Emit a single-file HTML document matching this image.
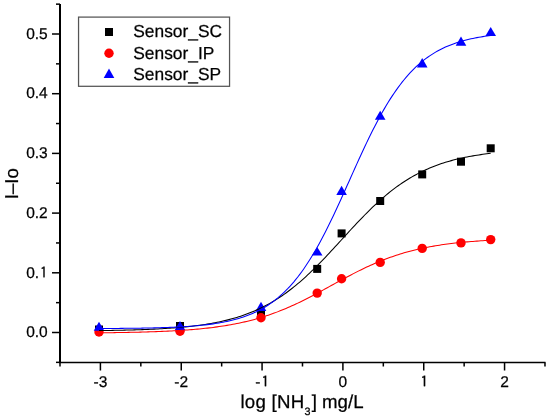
<!DOCTYPE html>
<html><head><meta charset="utf-8"><style>
html,body{margin:0;padding:0;background:#fff;}
body{width:550px;height:418px;overflow:hidden;}
svg{display:block;}
text{text-rendering:geometricPrecision;font-family:"Liberation Sans",Arial,sans-serif;fill:#000;stroke:#000;stroke-width:0.25px;}
.tl{font-size:15.5px;}
.one{font-family:IPAGothic,"Liberation Sans",sans-serif;font-size:15.11px;}
.at{font-size:18.67px;}
.lg{font-size:17.35px;}
</style></head><body>
<svg width="550" height="418" viewBox="0 0 550 418">
<rect width="550" height="418" fill="#fff"/>
<rect x="95.0" y="325.5" width="8" height="8" fill="#000"/>
<rect x="176.0" y="322.0" width="8" height="8" fill="#000"/>
<rect x="257.0" y="309.5" width="8" height="8" fill="#000"/>
<rect x="313.2" y="264.9" width="8" height="8" fill="#000"/>
<rect x="337.6" y="229.4" width="8" height="8" fill="#000"/>
<rect x="376.2" y="197.0" width="8" height="8" fill="#000"/>
<rect x="418.2" y="170.4" width="8" height="8" fill="#000"/>
<rect x="457.0" y="157.7" width="8" height="8" fill="#000"/>
<rect x="486.7" y="144.3" width="8" height="8" fill="#000"/>
<circle cx="99.0" cy="332.0" r="4.7" fill="#f00"/>
<circle cx="180.0" cy="331.2" r="4.7" fill="#f00"/>
<circle cx="261.0" cy="317.8" r="4.7" fill="#f00"/>
<circle cx="317.2" cy="293.1" r="4.7" fill="#f00"/>
<circle cx="341.6" cy="278.8" r="4.7" fill="#f00"/>
<circle cx="380.2" cy="262.4" r="4.7" fill="#f00"/>
<circle cx="422.2" cy="248.4" r="4.7" fill="#f00"/>
<circle cx="461.0" cy="242.9" r="4.7" fill="#f00"/>
<circle cx="490.7" cy="239.6" r="4.7" fill="#f00"/>
<polygon points="99.0,321.8 104.3,330.8 93.7,330.8" fill="#00f"/>
<polygon points="180.0,321.0 185.3,330.2 174.7,330.2" fill="#00f"/>
<polygon points="261.0,301.8 266.3,310.9 255.7,310.9" fill="#00f"/>
<polygon points="317.2,247.1 322.5,255.6 311.9,255.6" fill="#00f"/>
<polygon points="341.6,185.7 346.9,195.0 336.3,195.0" fill="#00f"/>
<polygon points="380.2,110.7 385.5,119.7 374.9,119.7" fill="#00f"/>
<polygon points="422.2,58.1 427.5,67.6 416.9,67.6" fill="#00f"/>
<polygon points="461.0,36.6 466.3,45.8 455.7,45.8" fill="#00f"/>
<polygon points="490.7,26.9 496.0,36.1 485.4,36.1" fill="#00f"/>
<path d="M99.00,330.59 L100.97,330.56 L102.94,330.54 L104.91,330.51 L106.87,330.48 L108.84,330.45 L110.81,330.41 L112.78,330.38 L114.75,330.34 L116.72,330.30 L118.68,330.26 L120.65,330.22 L122.62,330.18 L124.59,330.13 L126.56,330.08 L128.53,330.03 L130.49,329.98 L132.46,329.93 L134.43,329.87 L136.40,329.81 L138.37,329.74 L140.34,329.68 L142.30,329.61 L144.27,329.53 L146.24,329.46 L148.21,329.38 L150.18,329.29 L152.15,329.20 L154.11,329.11 L156.08,329.02 L158.05,328.91 L160.02,328.81 L161.99,328.70 L163.96,328.58 L165.92,328.46 L167.89,328.33 L169.86,328.20 L171.83,328.06 L173.80,327.91 L175.77,327.76 L177.73,327.60 L179.70,327.43 L181.67,327.26 L183.64,327.08 L185.61,326.89 L187.58,326.68 L189.54,326.48 L191.51,326.26 L193.48,326.03 L195.45,325.79 L197.42,325.54 L199.39,325.28 L201.35,325.00 L203.32,324.72 L205.29,324.42 L207.26,324.11 L209.23,323.78 L211.20,323.44 L213.16,323.08 L215.13,322.71 L217.10,322.33 L219.07,321.92 L221.04,321.50 L223.01,321.06 L224.97,320.60 L226.94,320.12 L228.91,319.63 L230.88,319.11 L232.85,318.56 L234.82,318.00 L236.78,317.41 L238.75,316.80 L240.72,316.17 L242.69,315.51 L244.66,314.82 L246.63,314.10 L248.59,313.36 L250.56,312.59 L252.53,311.79 L254.50,310.96 L256.47,310.10 L258.44,309.20 L260.40,308.27 L262.37,307.31 L264.34,306.32 L266.31,305.29 L268.28,304.22 L270.25,303.12 L272.21,301.99 L274.18,300.81 L276.15,299.60 L278.12,298.35 L280.09,297.06 L282.06,295.73 L284.02,294.37 L285.99,292.96 L287.96,291.52 L289.93,290.03 L291.90,288.51 L293.87,286.95 L295.83,285.35 L297.80,283.71 L299.77,282.04 L301.74,280.32 L303.71,278.57 L305.68,276.79 L307.64,274.97 L309.61,273.12 L311.58,271.23 L313.55,269.32 L315.52,267.37 L317.49,265.40 L319.45,263.40 L321.42,261.38 L323.39,259.33 L325.36,257.27 L327.33,255.18 L329.30,253.08 L331.26,250.96 L333.23,248.83 L335.20,246.69 L337.17,244.55 L339.14,242.39 L341.11,240.24 L343.07,238.08 L345.04,235.93 L347.01,233.78 L348.98,231.64 L350.95,229.50 L352.92,227.38 L354.88,225.27 L356.85,223.18 L358.82,221.10 L360.79,219.04 L362.76,217.01 L364.73,215.00 L366.69,213.01 L368.66,211.06 L370.63,209.13 L372.60,207.23 L374.57,205.36 L376.54,203.53 L378.50,201.73 L380.47,199.96 L382.44,198.23 L384.41,196.54 L386.38,194.88 L388.35,193.27 L390.31,191.69 L392.28,190.15 L394.25,188.65 L396.22,187.18 L398.19,185.76 L400.16,184.38 L402.12,183.03 L404.09,181.72 L406.06,180.46 L408.03,179.23 L410.00,178.04 L411.97,176.88 L413.93,175.76 L415.90,174.68 L417.87,173.64 L419.84,172.63 L421.81,171.65 L423.78,170.71 L425.74,169.80 L427.71,168.92 L429.68,168.07 L431.65,167.26 L433.62,166.47 L435.59,165.72 L437.55,164.99 L439.52,164.29 L441.49,163.62 L443.46,162.97 L445.43,162.35 L447.40,161.75 L449.36,161.18 L451.33,160.63 L453.30,160.10 L455.27,159.59 L457.24,159.10 L459.21,158.63 L461.17,158.18 L463.14,157.75 L465.11,157.34 L467.08,156.95 L469.05,156.57 L471.02,156.21 L472.98,155.86 L474.95,155.53 L476.92,155.21 L478.89,154.90 L480.86,154.61 L482.83,154.33 L484.79,154.07 L486.76,153.81 L488.73,153.57 L490.70,153.33" fill="none" stroke="#000" stroke-width="1.05"/>
<path d="M99.00,332.82 L100.97,332.80 L102.94,332.78 L104.91,332.76 L106.87,332.74 L108.84,332.71 L110.81,332.68 L112.78,332.66 L114.75,332.63 L116.72,332.60 L118.68,332.57 L120.65,332.54 L122.62,332.50 L124.59,332.47 L126.56,332.43 L128.53,332.39 L130.49,332.35 L132.46,332.31 L134.43,332.26 L136.40,332.22 L138.37,332.17 L140.34,332.12 L142.30,332.07 L144.27,332.01 L146.24,331.95 L148.21,331.89 L150.18,331.83 L152.15,331.76 L154.11,331.70 L156.08,331.62 L158.05,331.55 L160.02,331.47 L161.99,331.39 L163.96,331.30 L165.92,331.21 L167.89,331.12 L169.86,331.02 L171.83,330.92 L173.80,330.81 L175.77,330.70 L177.73,330.59 L179.70,330.47 L181.67,330.34 L183.64,330.21 L185.61,330.07 L187.58,329.93 L189.54,329.78 L191.51,329.62 L193.48,329.46 L195.45,329.29 L197.42,329.11 L199.39,328.93 L201.35,328.73 L203.32,328.53 L205.29,328.33 L207.26,328.11 L209.23,327.88 L211.20,327.65 L213.16,327.40 L215.13,327.14 L217.10,326.88 L219.07,326.60 L221.04,326.32 L223.01,326.02 L224.97,325.71 L226.94,325.38 L228.91,325.05 L230.88,324.70 L232.85,324.34 L234.82,323.97 L236.78,323.58 L238.75,323.17 L240.72,322.76 L242.69,322.32 L244.66,321.88 L246.63,321.41 L248.59,320.93 L250.56,320.44 L252.53,319.92 L254.50,319.39 L256.47,318.85 L258.44,318.28 L260.40,317.70 L262.37,317.10 L264.34,316.48 L266.31,315.84 L268.28,315.18 L270.25,314.51 L272.21,313.81 L274.18,313.10 L276.15,312.37 L278.12,311.62 L280.09,310.85 L282.06,310.06 L284.02,309.25 L285.99,308.43 L287.96,307.58 L289.93,306.72 L291.90,305.84 L293.87,304.95 L295.83,304.03 L297.80,303.10 L299.77,302.16 L301.74,301.20 L303.71,300.23 L305.68,299.24 L307.64,298.24 L309.61,297.22 L311.58,296.20 L313.55,295.17 L315.52,294.12 L317.49,293.07 L319.45,292.01 L321.42,290.94 L323.39,289.87 L325.36,288.80 L327.33,287.72 L329.30,286.63 L331.26,285.55 L333.23,284.47 L335.20,283.39 L337.17,282.31 L339.14,281.23 L341.11,280.16 L343.07,279.09 L345.04,278.03 L347.01,276.98 L348.98,275.94 L350.95,274.91 L352.92,273.88 L354.88,272.87 L356.85,271.87 L358.82,270.88 L360.79,269.91 L362.76,268.95 L364.73,268.01 L366.69,267.08 L368.66,266.17 L370.63,265.28 L372.60,264.40 L374.57,263.54 L376.54,262.70 L378.50,261.87 L380.47,261.07 L382.44,260.28 L384.41,259.51 L386.38,258.76 L388.35,258.03 L390.31,257.32 L392.28,256.63 L394.25,255.96 L396.22,255.30 L398.19,254.66 L400.16,254.05 L402.12,253.45 L404.09,252.87 L406.06,252.30 L408.03,251.76 L410.00,251.23 L411.97,250.72 L413.93,250.22 L415.90,249.74 L417.87,249.28 L419.84,248.83 L421.81,248.40 L423.78,247.99 L425.74,247.58 L427.71,247.20 L429.68,246.82 L431.65,246.46 L433.62,246.12 L435.59,245.78 L437.55,245.46 L439.52,245.15 L441.49,244.85 L443.46,244.57 L445.43,244.29 L447.40,244.03 L449.36,243.77 L451.33,243.53 L453.30,243.29 L455.27,243.07 L457.24,242.85 L459.21,242.64 L461.17,242.44 L463.14,242.25 L465.11,242.07 L467.08,241.89 L469.05,241.72 L471.02,241.56 L472.98,241.41 L474.95,241.26 L476.92,241.11 L478.89,240.98 L480.86,240.85 L482.83,240.72 L484.79,240.60 L486.76,240.48 L488.73,240.37 L490.70,240.27" fill="none" stroke="#f00" stroke-width="1.05"/>
<path d="M99.00,328.54 L100.97,328.53 L102.94,328.52 L104.91,328.51 L106.87,328.49 L108.84,328.48 L110.81,328.47 L112.78,328.45 L114.75,328.44 L116.72,328.42 L118.68,328.41 L120.65,328.39 L122.62,328.37 L124.59,328.35 L126.56,328.33 L128.53,328.31 L130.49,328.29 L132.46,328.26 L134.43,328.23 L136.40,328.21 L138.37,328.18 L140.34,328.15 L142.30,328.11 L144.27,328.08 L146.24,328.04 L148.21,328.00 L150.18,327.96 L152.15,327.91 L154.11,327.86 L156.08,327.81 L158.05,327.76 L160.02,327.70 L161.99,327.64 L163.96,327.58 L165.92,327.51 L167.89,327.44 L169.86,327.36 L171.83,327.28 L173.80,327.20 L175.77,327.11 L177.73,327.01 L179.70,326.91 L181.67,326.80 L183.64,326.69 L185.61,326.56 L187.58,326.43 L189.54,326.30 L191.51,326.15 L193.48,326.00 L195.45,325.84 L197.42,325.66 L199.39,325.48 L201.35,325.29 L203.32,325.08 L205.29,324.86 L207.26,324.63 L209.23,324.39 L211.20,324.13 L213.16,323.86 L215.13,323.57 L217.10,323.26 L219.07,322.94 L221.04,322.59 L223.01,322.23 L224.97,321.84 L226.94,321.44 L228.91,321.01 L230.88,320.55 L232.85,320.07 L234.82,319.56 L236.78,319.02 L238.75,318.45 L240.72,317.85 L242.69,317.21 L244.66,316.54 L246.63,315.83 L248.59,315.08 L250.56,314.29 L252.53,313.46 L254.50,312.58 L256.47,311.66 L258.44,310.68 L260.40,309.65 L262.37,308.57 L264.34,307.43 L266.31,306.23 L268.28,304.97 L270.25,303.65 L272.21,302.26 L274.18,300.80 L276.15,299.26 L278.12,297.66 L280.09,295.97 L282.06,294.21 L284.02,292.36 L285.99,290.43 L287.96,288.42 L289.93,286.31 L291.90,284.11 L293.87,281.83 L295.83,279.44 L297.80,276.96 L299.77,274.38 L301.74,271.71 L303.71,268.93 L305.68,266.05 L307.64,263.08 L309.61,260.00 L311.58,256.83 L313.55,253.55 L315.52,250.18 L317.49,246.71 L319.45,243.15 L321.42,239.50 L323.39,235.76 L325.36,231.94 L327.33,228.04 L329.30,224.06 L331.26,220.01 L333.23,215.90 L335.20,211.73 L337.17,207.50 L339.14,203.23 L341.11,198.92 L343.07,194.58 L345.04,190.21 L347.01,185.82 L348.98,181.42 L350.95,177.02 L352.92,172.63 L354.88,168.25 L356.85,163.89 L358.82,159.56 L360.79,155.26 L362.76,151.00 L364.73,146.79 L366.69,142.64 L368.66,138.55 L370.63,134.53 L372.60,130.58 L374.57,126.70 L376.54,122.91 L378.50,119.20 L380.47,115.58 L382.44,112.05 L384.41,108.62 L386.38,105.28 L388.35,102.04 L390.31,98.90 L392.28,95.86 L394.25,92.92 L396.22,90.08 L398.19,87.34 L400.16,84.70 L402.12,82.15 L404.09,79.71 L406.06,77.36 L408.03,75.10 L410.00,72.94 L411.97,70.86 L413.93,68.88 L415.90,66.98 L417.87,65.16 L419.84,63.42 L421.81,61.77 L423.78,60.19 L425.74,58.68 L427.71,57.24 L429.68,55.88 L431.65,54.57 L433.62,53.34 L435.59,52.16 L437.55,51.04 L439.52,49.98 L441.49,48.97 L443.46,48.01 L445.43,47.10 L447.40,46.24 L449.36,45.42 L451.33,44.65 L453.30,43.91 L455.27,43.22 L457.24,42.56 L459.21,41.93 L461.17,41.34 L463.14,40.79 L465.11,40.26 L467.08,39.76 L469.05,39.28 L471.02,38.84 L472.98,38.41 L474.95,38.02 L476.92,37.64 L478.89,37.28 L480.86,36.94 L482.83,36.63 L484.79,36.33 L486.76,36.04 L488.73,35.77 L490.70,35.52" fill="none" stroke="#00f" stroke-width="1.05"/>
<line x1="60" y1="4" x2="60" y2="362.5" stroke="#000" stroke-width="2"/>
<line x1="59" y1="362.5" x2="545.5" y2="362.5" stroke="#000" stroke-width="1.6"/>
<line x1="56" y1="362.35" x2="60" y2="362.35" stroke="#000" stroke-width="1.5"/>
<line x1="52" y1="332.50" x2="60" y2="332.50" stroke="#000" stroke-width="1.5"/>
<text x="47.70" y="337.20" text-anchor="end" class="tl">0.0</text>
<line x1="56" y1="302.65" x2="60" y2="302.65" stroke="#000" stroke-width="1.5"/>
<line x1="52" y1="272.80" x2="60" y2="272.80" stroke="#000" stroke-width="1.5"/>
<text x="39.08" y="277.50" text-anchor="end" class="tl">0.</text>
<text x="40.12" y="277.74" class="one">1</text>
<line x1="56" y1="242.95" x2="60" y2="242.95" stroke="#000" stroke-width="1.5"/>
<line x1="52" y1="213.10" x2="60" y2="213.10" stroke="#000" stroke-width="1.5"/>
<text x="47.70" y="217.80" text-anchor="end" class="tl">0.2</text>
<line x1="56" y1="183.25" x2="60" y2="183.25" stroke="#000" stroke-width="1.5"/>
<line x1="52" y1="153.40" x2="60" y2="153.40" stroke="#000" stroke-width="1.5"/>
<text x="47.70" y="158.10" text-anchor="end" class="tl">0.3</text>
<line x1="56" y1="123.55" x2="60" y2="123.55" stroke="#000" stroke-width="1.5"/>
<line x1="52" y1="93.70" x2="60" y2="93.70" stroke="#000" stroke-width="1.5"/>
<text x="47.70" y="98.40" text-anchor="end" class="tl">0.4</text>
<line x1="56" y1="63.85" x2="60" y2="63.85" stroke="#000" stroke-width="1.5"/>
<line x1="52" y1="34.00" x2="60" y2="34.00" stroke="#000" stroke-width="1.5"/>
<text x="47.70" y="38.70" text-anchor="end" class="tl">0.5</text>
<line x1="56" y1="4.15" x2="60" y2="4.15" stroke="#000" stroke-width="1.5"/>
<line x1="60.00" y1="362.5" x2="60.00" y2="366.5" stroke="#000" stroke-width="1.5"/>
<line x1="100.41" y1="362.5" x2="100.41" y2="370.5" stroke="#000" stroke-width="1.5"/>
<text x="100.41" y="386.70" text-anchor="middle" class="tl">-3</text>
<line x1="140.83" y1="362.5" x2="140.83" y2="366.5" stroke="#000" stroke-width="1.5"/>
<line x1="181.25" y1="362.5" x2="181.25" y2="370.5" stroke="#000" stroke-width="1.5"/>
<text x="181.25" y="386.70" text-anchor="middle" class="tl">-2</text>
<line x1="221.66" y1="362.5" x2="221.66" y2="366.5" stroke="#000" stroke-width="1.5"/>
<line x1="262.07" y1="362.5" x2="262.07" y2="370.5" stroke="#000" stroke-width="1.5"/>
<text x="255.18" y="386.70" class="tl">-</text>
<text x="261.39" y="386.94" class="one">1</text>
<line x1="302.49" y1="362.5" x2="302.49" y2="366.5" stroke="#000" stroke-width="1.5"/>
<line x1="342.90" y1="362.5" x2="342.90" y2="370.5" stroke="#000" stroke-width="1.5"/>
<text x="342.90" y="386.70" text-anchor="middle" class="tl">0</text>
<line x1="383.32" y1="362.5" x2="383.32" y2="366.5" stroke="#000" stroke-width="1.5"/>
<line x1="423.74" y1="362.5" x2="423.74" y2="370.5" stroke="#000" stroke-width="1.5"/>
<text x="420.46" y="386.94" class="one">1</text>
<line x1="464.15" y1="362.5" x2="464.15" y2="366.5" stroke="#000" stroke-width="1.5"/>
<line x1="504.56" y1="362.5" x2="504.56" y2="370.5" stroke="#000" stroke-width="1.5"/>
<text x="504.56" y="386.70" text-anchor="middle" class="tl">2</text>
<line x1="544.98" y1="362.5" x2="544.98" y2="366.5" stroke="#000" stroke-width="1.5"/>
<text x="240.46" y="408" class="at" letter-spacing="0.27">log [NH</text>
<text x="304.6" y="414.8" font-size="10.7">3</text>
<text x="311.7" y="408" class="at">] mg/L</text>
<text transform="translate(18,199.2) rotate(-90)" class="at">I–Io</text>
<rect x="78.55" y="17.1" width="151" height="69.2" fill="#fff" stroke="#555" stroke-width="1.25"/>
<rect x="105" y="28" width="8" height="8" fill="#000"/>
<circle cx="109" cy="53.3" r="4.7" fill="#f00"/>
<polygon points="109,68.5 114.3,78 103.7,78" fill="#00f"/>
<text x="133.3" y="37.2" class="lg">Sensor_SC</text>
<text x="133.3" y="58.5" class="lg">Sensor_IP</text>
<text x="133.3" y="79.8" class="lg">Sensor_SP</text>
</svg>
</body></html>
